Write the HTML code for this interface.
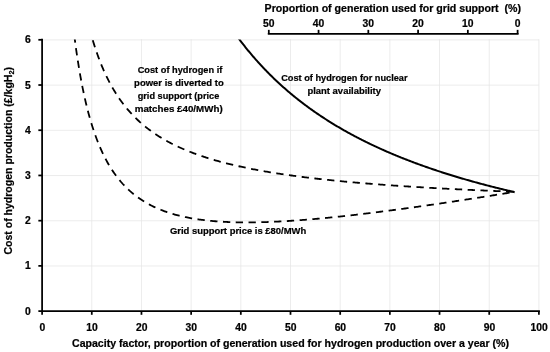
<!DOCTYPE html>
<html lang="en"><head><meta charset="utf-8"><title>Cost of hydrogen production</title>
<style>html,body{margin:0;padding:0;background:#fff;}svg{display:block;}text{font-family:"Liberation Sans", sans-serif;font-weight:bold;fill:#000;stroke:#000;stroke-width:0.22px;}</style></head><body>
<svg width="550" height="352" viewBox="0 0 550 352">
<rect width="550" height="352" fill="#fff"/>
<defs><clipPath id="plot"><rect x="42.10" y="39.60" width="498.80" height="271.50"/></clipPath></defs>
<g stroke="#e5e5e5" stroke-width="0.75" fill="none"><line x1="91.78" y1="39.10" x2="91.78" y2="311.10"/><line x1="141.46" y1="39.10" x2="141.46" y2="311.10"/><line x1="191.14" y1="39.10" x2="191.14" y2="311.10"/><line x1="240.82" y1="39.10" x2="240.82" y2="311.10"/><line x1="290.50" y1="39.10" x2="290.50" y2="311.10"/><line x1="340.18" y1="39.10" x2="340.18" y2="311.10"/><line x1="389.86" y1="39.10" x2="389.86" y2="311.10"/><line x1="439.54" y1="39.10" x2="439.54" y2="311.10"/><line x1="489.22" y1="39.10" x2="489.22" y2="311.10"/><line x1="538.90" y1="39.10" x2="538.90" y2="311.10"/><line x1="42.10" y1="265.98" x2="538.90" y2="265.98"/><line x1="42.10" y1="220.77" x2="538.90" y2="220.77"/><line x1="42.10" y1="175.55" x2="538.90" y2="175.55"/><line x1="42.10" y1="130.33" x2="538.90" y2="130.33"/><line x1="42.10" y1="85.12" x2="538.90" y2="85.12"/><line x1="42.10" y1="39.90" x2="538.90" y2="39.90"/></g>
<g clip-path="url(#plot)" fill="none" stroke="#000">
<path d="M515.05,191.80 L513.93,191.76 L512.81,191.72 L511.68,191.67 L510.56,191.63 L509.44,191.59 L508.32,191.54 L507.19,191.50 L506.07,191.45 L504.95,191.41 L503.82,191.36 L502.70,191.32 L501.58,191.27 L500.45,191.22 L499.33,191.18 L498.21,191.13 L497.08,191.09 L495.96,191.04 L494.84,190.99 L493.71,190.94 L492.59,190.90 L491.47,190.85 L490.35,190.80 L489.22,190.75 L488.10,190.70 L486.98,190.66 L485.85,190.61 L484.73,190.56 L483.61,190.51 L482.48,190.46 L481.36,190.41 L480.24,190.36 L479.11,190.31 L477.99,190.26 L476.87,190.21 L475.75,190.16 L474.62,190.10 L473.50,190.05 L472.38,190.00 L471.25,189.95 L470.13,189.90 L469.01,189.84 L467.88,189.79 L466.76,189.74 L465.64,189.68 L464.51,189.63 L463.39,189.57 L462.27,189.52 L461.15,189.46 L460.02,189.41 L458.90,189.35 L457.78,189.30 L456.65,189.24 L455.53,189.19 L454.41,189.13 L453.28,189.07 L452.16,189.01 L451.04,188.96 L449.91,188.90 L448.79,188.84 L447.67,188.78 L446.55,188.72 L445.42,188.66 L444.30,188.60 L443.18,188.54 L442.05,188.48 L440.93,188.42 L439.81,188.36 L438.68,188.30 L437.56,188.24 L436.44,188.18 L435.31,188.12 L434.19,188.05 L433.07,187.99 L431.94,187.93 L430.82,187.86 L429.70,187.80 L428.58,187.73 L427.45,187.67 L426.33,187.60 L425.21,187.54 L424.08,187.47 L422.96,187.41 L421.84,187.34 L420.71,187.27 L419.59,187.20 L418.47,187.14 L417.34,187.07 L416.22,187.00 L415.10,186.93 L413.98,186.86 L412.85,186.79 L411.73,186.72 L410.61,186.65 L409.48,186.58 L408.36,186.51 L407.24,186.43 L406.11,186.36 L404.99,186.29 L403.87,186.21 L402.74,186.14 L401.62,186.06 L400.50,185.99 L399.38,185.91 L398.25,185.84 L397.13,185.76 L396.01,185.69 L394.88,185.61 L393.76,185.53 L392.64,185.45 L391.51,185.37 L390.39,185.29 L389.27,185.21 L388.14,185.13 L387.02,185.05 L385.90,184.97 L384.77,184.89 L383.65,184.81 L382.53,184.72 L381.41,184.64 L380.28,184.55 L379.16,184.47 L378.04,184.38 L376.91,184.30 L375.79,184.21 L374.67,184.13 L373.54,184.04 L372.42,183.95 L371.30,183.86 L370.17,183.77 L369.05,183.68 L367.93,183.59 L366.81,183.50 L365.68,183.41 L364.56,183.31 L363.44,183.22 L362.31,183.13 L361.19,183.03 L360.07,182.94 L358.94,182.84 L357.82,182.74 L356.70,182.65 L355.57,182.55 L354.45,182.45 L353.33,182.35 L352.21,182.25 L351.08,182.15 L349.96,182.05 L348.84,181.95 L347.71,181.84 L346.59,181.74 L345.47,181.64 L344.34,181.53 L343.22,181.42 L342.10,181.32 L340.97,181.21 L339.85,181.10 L338.73,180.99 L337.61,180.88 L336.48,180.77 L335.36,180.66 L334.24,180.54 L333.11,180.43 L331.99,180.32 L330.87,180.20 L329.74,180.08 L328.62,179.97 L327.50,179.85 L326.37,179.73 L325.25,179.61 L324.13,179.49 L323.00,179.37 L321.88,179.24 L320.76,179.12 L319.64,179.00 L318.51,178.87 L317.39,178.74 L316.27,178.61 L315.14,178.49 L314.02,178.36 L312.90,178.22 L311.77,178.09 L310.65,177.96 L309.53,177.82 L308.40,177.69 L307.28,177.55 L306.16,177.41 L305.04,177.27 L303.91,177.13 L302.79,176.99 L301.67,176.85 L300.54,176.71 L299.42,176.56 L298.30,176.41 L297.17,176.27 L296.05,176.12 L294.93,175.97 L293.80,175.81 L292.68,175.66 L291.56,175.51 L290.44,175.35 L289.31,175.19 L288.19,175.03 L287.07,174.87 L285.94,174.71 L284.82,174.55 L283.70,174.38 L282.57,174.22 L281.45,174.05 L280.33,173.88 L279.20,173.71 L278.08,173.54 L276.96,173.36 L275.84,173.19 L274.71,173.01 L273.59,172.83 L272.47,172.65 L271.34,172.47 L270.22,172.28 L269.10,172.09 L267.97,171.91 L266.85,171.71 L265.73,171.52 L264.60,171.33 L263.48,171.13 L262.36,170.93 L261.23,170.73 L260.11,170.53 L258.99,170.33 L257.87,170.12 L256.74,169.91 L255.62,169.70 L254.50,169.49 L253.37,169.27 L252.25,169.06 L251.13,168.84 L250.00,168.61 L248.88,168.39 L247.76,168.16 L246.63,167.93 L245.51,167.70 L244.39,167.46 L243.27,167.23 L242.14,166.99 L241.02,166.74 L239.90,166.50 L238.77,166.25 L237.65,166.00 L236.53,165.74 L235.40,165.49 L234.28,165.23 L233.16,164.96 L232.03,164.70 L230.91,164.43 L229.79,164.16 L228.67,163.88 L227.54,163.60 L226.42,163.32 L225.30,163.03 L224.17,162.74 L223.05,162.45 L221.93,162.15 L220.80,161.85 L219.68,161.55 L218.56,161.24 L217.43,160.93 L216.31,160.61 L215.19,160.29 L214.07,159.96 L212.94,159.64 L211.82,159.30 L210.70,158.96 L209.57,158.62 L208.45,158.28 L207.33,157.92 L206.20,157.57 L205.08,157.21 L203.96,156.84 L202.83,156.47 L201.71,156.09 L200.59,155.71 L199.46,155.32 L198.34,154.93 L197.22,154.53 L196.10,154.13 L194.97,153.72 L193.85,153.30 L192.73,152.88 L191.60,152.45 L190.48,152.01 L189.36,151.57 L188.23,151.12 L187.11,150.66 L185.99,150.20 L184.86,149.73 L183.74,149.25 L182.62,148.77 L181.50,148.27 L180.37,147.77 L179.25,147.26 L178.13,146.75 L177.00,146.22 L175.88,145.68 L174.76,145.14 L173.63,144.59 L172.51,144.02 L171.39,143.45 L170.26,142.87 L169.14,142.27 L168.02,141.67 L166.90,141.05 L165.77,140.43 L164.65,139.79 L163.53,139.14 L162.40,138.48 L161.28,137.81 L160.16,137.12 L159.03,136.42 L157.91,135.71 L156.79,134.98 L155.66,134.24 L154.54,133.48 L153.42,132.71 L152.29,131.92 L151.17,131.12 L150.05,130.30 L148.93,129.46 L147.80,128.60 L146.68,127.73 L145.56,126.83 L144.43,125.92 L143.31,124.99 L142.19,124.03 L141.06,123.06 L139.94,122.06 L138.82,121.04 L137.69,120.00 L136.57,118.93 L135.45,117.83 L134.33,116.71 L133.20,115.56 L132.08,114.38 L130.96,113.17 L129.83,111.93 L128.71,110.66 L127.59,109.35 L126.46,108.01 L125.34,106.64 L124.22,105.22 L123.09,103.77 L121.97,102.28 L120.85,100.74 L119.73,99.16 L118.60,97.53 L117.48,95.86 L116.36,94.13 L115.23,92.35 L114.11,90.52 L112.99,88.62 L111.86,86.67 L110.74,84.65 L109.62,82.57 L108.49,80.41 L107.37,78.18 L106.25,75.88 L105.13,73.49 L104.00,71.01 L102.88,68.44 L101.76,65.78 L100.63,63.01 L99.51,60.13 L98.39,57.14 L97.26,54.03 L96.14,50.79 L95.02,47.41 L93.89,43.88 L92.77,40.20 L91.65,36.35 L90.52,32.33 L89.40,28.11 L88.28,23.69 L87.16,19.04 L86.03,14.16 L84.91,9.02 L83.79,3.61 L82.66,-2.11 L81.54,-8.15 L80.42,-14.54 L79.29,-21.32 L78.17,-28.52 L77.05,-36.19 L75.92,-44.36 L74.80,-53.10 L73.68,-62.45 L72.56,-72.50 L71.43,-83.32 L70.31,-95.00 L69.19,-107.64 L68.06,-121.38 L66.94,-136.36" stroke-width="1.8" stroke-dasharray="7.3 5.51" stroke-dashoffset="11.1"/>
<path d="M515.05,191.81 L513.93,191.99 L512.81,192.17 L511.68,192.35 L510.56,192.54 L509.44,192.72 L508.32,192.90 L507.19,193.08 L506.07,193.26 L504.95,193.44 L503.82,193.62 L502.70,193.80 L501.58,193.98 L500.45,194.16 L499.33,194.34 L498.21,194.52 L497.08,194.70 L495.96,194.88 L494.84,195.06 L493.71,195.24 L492.59,195.42 L491.47,195.60 L490.35,195.78 L489.22,195.95 L488.10,196.13 L486.98,196.31 L485.85,196.49 L484.73,196.66 L483.61,196.84 L482.48,197.02 L481.36,197.19 L480.24,197.37 L479.11,197.54 L477.99,197.72 L476.87,197.90 L475.75,198.07 L474.62,198.25 L473.50,198.42 L472.38,198.59 L471.25,198.77 L470.13,198.94 L469.01,199.12 L467.88,199.29 L466.76,199.46 L465.64,199.63 L464.51,199.81 L463.39,199.98 L462.27,200.15 L461.15,200.32 L460.02,200.49 L458.90,200.67 L457.78,200.84 L456.65,201.01 L455.53,201.18 L454.41,201.35 L453.28,201.52 L452.16,201.69 L451.04,201.85 L449.91,202.02 L448.79,202.19 L447.67,202.36 L446.55,202.53 L445.42,202.69 L444.30,202.86 L443.18,203.03 L442.05,203.20 L440.93,203.36 L439.81,203.53 L438.68,203.69 L437.56,203.86 L436.44,204.02 L435.31,204.19 L434.19,204.35 L433.07,204.52 L431.94,204.68 L430.82,204.84 L429.70,205.01 L428.58,205.17 L427.45,205.33 L426.33,205.49 L425.21,205.65 L424.08,205.81 L422.96,205.97 L421.84,206.13 L420.71,206.29 L419.59,206.45 L418.47,206.61 L417.34,206.77 L416.22,206.93 L415.10,207.09 L413.98,207.24 L412.85,207.40 L411.73,207.56 L410.61,207.71 L409.48,207.87 L408.36,208.03 L407.24,208.18 L406.11,208.34 L404.99,208.49 L403.87,208.64 L402.74,208.80 L401.62,208.95 L400.50,209.10 L399.38,209.25 L398.25,209.41 L397.13,209.56 L396.01,209.71 L394.88,209.86 L393.76,210.01 L392.64,210.16 L391.51,210.30 L390.39,210.45 L389.27,210.60 L388.14,210.75 L387.02,210.89 L385.90,211.04 L384.77,211.19 L383.65,211.33 L382.53,211.47 L381.41,211.62 L380.28,211.76 L379.16,211.90 L378.04,212.05 L376.91,212.19 L375.79,212.33 L374.67,212.47 L373.54,212.61 L372.42,212.75 L371.30,212.89 L370.17,213.03 L369.05,213.17 L367.93,213.30 L366.81,213.44 L365.68,213.58 L364.56,213.71 L363.44,213.85 L362.31,213.98 L361.19,214.11 L360.07,214.25 L358.94,214.38 L357.82,214.51 L356.70,214.64 L355.57,214.77 L354.45,214.90 L353.33,215.03 L352.21,215.16 L351.08,215.28 L349.96,215.41 L348.84,215.54 L347.71,215.66 L346.59,215.79 L345.47,215.91 L344.34,216.03 L343.22,216.15 L342.10,216.28 L340.97,216.40 L339.85,216.52 L338.73,216.63 L337.61,216.75 L336.48,216.87 L335.36,216.99 L334.24,217.10 L333.11,217.22 L331.99,217.33 L330.87,217.44 L329.74,217.56 L328.62,217.67 L327.50,217.78 L326.37,217.89 L325.25,218.00 L324.13,218.10 L323.00,218.21 L321.88,218.32 L320.76,218.42 L319.64,218.53 L318.51,218.63 L317.39,218.73 L316.27,218.83 L315.14,218.93 L314.02,219.03 L312.90,219.13 L311.77,219.22 L310.65,219.32 L309.53,219.41 L308.40,219.51 L307.28,219.60 L306.16,219.69 L305.04,219.78 L303.91,219.87 L302.79,219.96 L301.67,220.04 L300.54,220.13 L299.42,220.21 L298.30,220.30 L297.17,220.38 L296.05,220.46 L294.93,220.54 L293.80,220.61 L292.68,220.69 L291.56,220.76 L290.44,220.84 L289.31,220.91 L288.19,220.98 L287.07,221.05 L285.94,221.12 L284.82,221.18 L283.70,221.25 L282.57,221.31 L281.45,221.37 L280.33,221.43 L279.20,221.49 L278.08,221.55 L276.96,221.61 L275.84,221.66 L274.71,221.71 L273.59,221.76 L272.47,221.81 L271.34,221.86 L270.22,221.90 L269.10,221.95 L267.97,221.99 L266.85,222.03 L265.73,222.07 L264.60,222.10 L263.48,222.14 L262.36,222.17 L261.23,222.20 L260.11,222.23 L258.99,222.25 L257.87,222.28 L256.74,222.30 L255.62,222.32 L254.50,222.34 L253.37,222.35 L252.25,222.37 L251.13,222.38 L250.00,222.38 L248.88,222.39 L247.76,222.39 L246.63,222.40 L245.51,222.39 L244.39,222.39 L243.27,222.38 L242.14,222.37 L241.02,222.36 L239.90,222.35 L238.77,222.33 L237.65,222.31 L236.53,222.29 L235.40,222.26 L234.28,222.23 L233.16,222.20 L232.03,222.17 L230.91,222.13 L229.79,222.09 L228.67,222.05 L227.54,222.00 L226.42,221.95 L225.30,221.89 L224.17,221.83 L223.05,221.77 L221.93,221.71 L220.80,221.64 L219.68,221.57 L218.56,221.49 L217.43,221.41 L216.31,221.33 L215.19,221.24 L214.07,221.15 L212.94,221.05 L211.82,220.95 L210.70,220.85 L209.57,220.74 L208.45,220.62 L207.33,220.50 L206.20,220.38 L205.08,220.25 L203.96,220.12 L202.83,219.98 L201.71,219.84 L200.59,219.69 L199.46,219.54 L198.34,219.38 L197.22,219.21 L196.10,219.04 L194.97,218.86 L193.85,218.68 L192.73,218.49 L191.60,218.30 L190.48,218.10 L189.36,217.89 L188.23,217.68 L187.11,217.45 L185.99,217.23 L184.86,216.99 L183.74,216.75 L182.62,216.50 L181.50,216.24 L180.37,215.97 L179.25,215.70 L178.13,215.42 L177.00,215.13 L175.88,214.83 L174.76,214.52 L173.63,214.20 L172.51,213.87 L171.39,213.54 L170.26,213.19 L169.14,212.83 L168.02,212.47 L166.90,212.09 L165.77,211.70 L164.65,211.30 L163.53,210.89 L162.40,210.46 L161.28,210.03 L160.16,209.58 L159.03,209.12 L157.91,208.64 L156.79,208.15 L155.66,207.65 L154.54,207.13 L153.42,206.60 L152.29,206.05 L151.17,205.49 L150.05,204.91 L148.93,204.31 L147.80,203.70 L146.68,203.06 L145.56,202.41 L144.43,201.74 L143.31,201.05 L142.19,200.34 L141.06,199.60 L139.94,198.85 L138.82,198.07 L137.69,197.27 L136.57,196.44 L135.45,195.59 L134.33,194.71 L133.20,193.81 L132.08,192.87 L130.96,191.91 L129.83,190.92 L128.71,189.89 L127.59,188.84 L126.46,187.74 L125.34,186.62 L124.22,185.45 L123.09,184.25 L121.97,183.00 L120.85,181.72 L119.73,180.39 L118.60,179.01 L117.48,177.59 L116.36,176.12 L115.23,174.59 L114.11,173.01 L112.99,171.37 L111.86,169.68 L110.74,167.92 L109.62,166.09 L108.49,164.19 L107.37,162.22 L106.25,160.18 L105.13,158.05 L104.00,155.84 L102.88,153.53 L101.76,151.14 L100.63,148.64 L99.51,146.03 L98.39,143.31 L97.26,140.47 L96.14,137.51 L95.02,134.40 L93.89,131.16 L92.77,127.76 L91.65,124.19 L90.52,120.45 L89.40,116.52 L88.28,112.39 L87.16,108.04 L86.03,103.46 L84.91,98.62 L83.79,93.51 L82.66,88.11 L81.54,82.38 L80.42,76.31 L79.29,69.85 L78.17,62.98 L77.05,55.65 L75.92,47.82 L74.80,39.44 L73.68,30.44 L72.56,20.77 L71.43,10.33 L70.31,-0.95 L69.19,-13.19 L68.06,-26.51 L66.94,-41.05" stroke-width="1.8" stroke-dasharray="7.3 5.486" stroke-dashoffset="7.3"/>
<path d="M514.66,192.17 L513.85,191.99 L513.03,191.80 L512.22,191.61 L511.41,191.42 L510.60,191.23 L509.79,191.03 L508.98,190.84 L508.17,190.65 L507.36,190.46 L506.55,190.26 L505.74,190.07 L504.93,189.87 L504.12,189.68 L503.30,189.48 L502.49,189.28 L501.68,189.08 L500.87,188.88 L500.06,188.68 L499.25,188.48 L498.44,188.28 L497.63,188.08 L496.82,187.88 L496.01,187.68 L495.20,187.47 L494.39,187.27 L493.57,187.06 L492.76,186.86 L491.95,186.65 L491.14,186.44 L490.33,186.23 L489.52,186.02 L488.71,185.81 L487.90,185.60 L487.09,185.39 L486.28,185.18 L485.47,184.97 L484.66,184.75 L483.85,184.54 L483.03,184.32 L482.22,184.11 L481.41,183.89 L480.60,183.67 L479.79,183.45 L478.98,183.23 L478.17,183.01 L477.36,182.79 L476.55,182.57 L475.74,182.35 L474.93,182.12 L474.12,181.90 L473.30,181.67 L472.49,181.45 L471.68,181.22 L470.87,180.99 L470.06,180.77 L469.25,180.54 L468.44,180.31 L467.63,180.07 L466.82,179.84 L466.01,179.61 L465.20,179.38 L464.39,179.14 L463.57,178.91 L462.76,178.67 L461.95,178.43 L461.14,178.19 L460.33,177.95 L459.52,177.71 L458.71,177.47 L457.90,177.23 L457.09,176.99 L456.28,176.74 L455.47,176.50 L454.66,176.25 L453.84,176.00 L453.03,175.76 L452.22,175.51 L451.41,175.26 L450.60,175.01 L449.79,174.76 L448.98,174.50 L448.17,174.25 L447.36,173.99 L446.55,173.74 L445.74,173.48 L444.93,173.22 L444.12,172.96 L443.30,172.70 L442.49,172.44 L441.68,172.18 L440.87,171.92 L440.06,171.65 L439.25,171.39 L438.44,171.12 L437.63,170.85 L436.82,170.58 L436.01,170.31 L435.20,170.04 L434.39,169.77 L433.57,169.50 L432.76,169.22 L431.95,168.95 L431.14,168.67 L430.33,168.39 L429.52,168.12 L428.71,167.84 L427.90,167.55 L427.09,167.27 L426.28,166.99 L425.47,166.70 L424.66,166.42 L423.84,166.13 L423.03,165.84 L422.22,165.55 L421.41,165.26 L420.60,164.97 L419.79,164.68 L418.98,164.38 L418.17,164.09 L417.36,163.79 L416.55,163.49 L415.74,163.19 L414.93,162.89 L414.11,162.59 L413.30,162.28 L412.49,161.98 L411.68,161.67 L410.87,161.36 L410.06,161.05 L409.25,160.74 L408.44,160.43 L407.63,160.12 L406.82,159.80 L406.01,159.49 L405.20,159.17 L404.38,158.85 L403.57,158.53 L402.76,158.21 L401.95,157.89 L401.14,157.56 L400.33,157.24 L399.52,156.91 L398.71,156.58 L397.90,156.25 L397.09,155.92 L396.28,155.58 L395.47,155.25 L394.66,154.91 L393.84,154.57 L393.03,154.23 L392.22,153.89 L391.41,153.55 L390.60,153.20 L389.79,152.86 L388.98,152.51 L388.17,152.16 L387.36,151.81 L386.55,151.46 L385.74,151.10 L384.93,150.75 L384.11,150.39 L383.30,150.03 L382.49,149.67 L381.68,149.30 L380.87,148.94 L380.06,148.57 L379.25,148.21 L378.44,147.84 L377.63,147.46 L376.82,147.09 L376.01,146.71 L375.20,146.34 L374.38,145.96 L373.57,145.58 L372.76,145.20 L371.95,144.81 L371.14,144.42 L370.33,144.04 L369.52,143.65 L368.71,143.25 L367.90,142.86 L367.09,142.46 L366.28,142.06 L365.47,141.66 L364.65,141.26 L363.84,140.86 L363.03,140.45 L362.22,140.04 L361.41,139.63 L360.60,139.22 L359.79,138.81 L358.98,138.39 L358.17,137.97 L357.36,137.55 L356.55,137.13 L355.74,136.70 L354.93,136.27 L354.11,135.84 L353.30,135.41 L352.49,134.98 L351.68,134.54 L350.87,134.10 L350.06,133.66 L349.25,133.22 L348.44,132.77 L347.63,132.32 L346.82,131.87 L346.01,131.42 L345.20,130.96 L344.38,130.51 L343.57,130.05 L342.76,129.58 L341.95,129.12 L341.14,128.65 L340.33,128.18 L339.52,127.71 L338.71,127.23 L337.90,126.75 L337.09,126.27 L336.28,125.79 L335.47,125.30 L334.65,124.82 L333.84,124.32 L333.03,123.83 L332.22,123.33 L331.41,122.83 L330.60,122.33 L329.79,121.82 L328.98,121.32 L328.17,120.81 L327.36,120.29 L326.55,119.77 L325.74,119.25 L324.92,118.73 L324.11,118.21 L323.30,117.68 L322.49,117.14 L321.68,116.61 L320.87,116.07 L320.06,115.53 L319.25,114.99 L318.44,114.44 L317.63,113.89 L316.82,113.33 L316.01,112.78 L315.20,112.21 L314.38,111.65 L313.57,111.08 L312.76,110.51 L311.95,109.94 L311.14,109.36 L310.33,108.78 L309.52,108.19 L308.71,107.61 L307.90,107.01 L307.09,106.42 L306.28,105.82 L305.47,105.22 L304.65,104.61 L303.84,104.00 L303.03,103.39 L302.22,102.77 L301.41,102.15 L300.60,101.52 L299.79,100.89 L298.98,100.26 L298.17,99.62 L297.36,98.98 L296.55,98.33 L295.74,97.68 L294.92,97.03 L294.11,96.37 L293.30,95.71 L292.49,95.04 L291.68,94.37 L290.87,93.69 L290.06,93.01 L289.25,92.33 L288.44,91.64 L287.63,90.94 L286.82,90.25 L286.01,89.54 L285.19,88.84 L284.38,88.12 L283.57,87.41 L282.76,86.69 L281.95,85.96 L281.14,85.23 L280.33,84.49 L279.52,83.75 L278.71,83.00 L277.90,82.25 L277.09,81.49 L276.28,80.73 L275.47,79.96 L274.65,79.19 L273.84,78.41 L273.03,77.63 L272.22,76.84 L271.41,76.04 L270.60,75.24 L269.79,74.44 L268.98,73.63 L268.17,72.81 L267.36,71.98 L266.55,71.15 L265.74,70.32 L264.92,69.48 L264.11,68.63 L263.30,67.77 L262.49,66.91 L261.68,66.05 L260.87,65.17 L260.06,64.29 L259.25,63.41 L258.44,62.52 L257.63,61.62 L256.82,60.71 L256.01,59.80 L255.19,58.88 L254.38,57.95 L253.57,57.01 L252.76,56.07 L251.95,55.12 L251.14,54.17 L250.33,53.20 L249.52,52.23 L248.71,51.25 L247.90,50.27 L247.09,49.27 L246.28,48.27 L245.46,47.26 L244.65,46.24 L243.84,45.22 L243.03,44.18 L242.22,43.14 L241.41,42.09 L240.60,41.03 L239.79,39.96 L238.98,38.88 L238.17,37.79 L237.36,36.70 L236.55,35.59 L235.73,34.48 L234.92,33.35 L234.11,32.22 L233.30,31.08 L232.49,29.93 L231.68,28.76 L230.87,27.59 L230.06,26.41 L229.25,25.22 L228.44,24.02 L227.63,22.80 L226.82,21.58 L226.01,20.34 L225.19,19.10 L224.38,17.84 L223.57,16.57 L222.76,15.29 L221.95,14.00 L221.14,12.70 L220.33,11.38 L219.52,10.06 L218.71,8.72 L217.90,7.37 L217.09,6.00 L216.28,4.63 L215.46,3.24 L214.65,1.84 L213.84,0.42 L213.03,-1.01 L212.22,-2.45 L211.41,-3.91 L210.60,-5.38 L209.79,-6.86 L208.98,-8.36 L208.17,-9.87 L207.36,-11.40 L206.55,-12.95 L205.73,-14.50 L204.92,-16.08 L204.11,-17.67 L203.30,-19.27 L202.49,-20.90 L201.68,-22.54 L200.87,-24.19 L200.06,-25.86 L199.25,-27.55 L198.44,-29.26 L197.63,-30.99 L196.82,-32.73 L196.00,-34.49 L195.19,-36.27 L194.38,-38.07 L193.57,-39.89 L192.76,-41.73 L191.95,-43.59 L191.14,-45.46" stroke-width="2.0"/>
</g>
<g stroke="#000" stroke-width="1.75" fill="none"><path d="M42.10,38.80 V311.10 H539.90"/><line x1="42.10" y1="311.10" x2="42.10" y2="314.80"/><line x1="91.78" y1="311.10" x2="91.78" y2="314.80"/><line x1="141.46" y1="311.10" x2="141.46" y2="314.80"/><line x1="191.14" y1="311.10" x2="191.14" y2="314.80"/><line x1="240.82" y1="311.10" x2="240.82" y2="314.80"/><line x1="290.50" y1="311.10" x2="290.50" y2="314.80"/><line x1="340.18" y1="311.10" x2="340.18" y2="314.80"/><line x1="389.86" y1="311.10" x2="389.86" y2="314.80"/><line x1="439.54" y1="311.10" x2="439.54" y2="314.80"/><line x1="489.22" y1="311.10" x2="489.22" y2="314.80"/><line x1="538.90" y1="311.10" x2="538.90" y2="314.80"/><line x1="38.35" y1="311.10" x2="42.10" y2="311.10"/><line x1="38.35" y1="265.88" x2="42.10" y2="265.88"/><line x1="38.35" y1="220.67" x2="42.10" y2="220.67"/><line x1="38.35" y1="175.45" x2="42.10" y2="175.45"/><line x1="38.35" y1="130.23" x2="42.10" y2="130.23"/><line x1="38.35" y1="85.02" x2="42.10" y2="85.02"/><line x1="38.35" y1="39.80" x2="42.10" y2="39.80"/><path d="M267.80,33.75 H518.60"/><line x1="268.80" y1="33.75" x2="268.80" y2="29.85"/><line x1="318.56" y1="33.75" x2="318.56" y2="29.85"/><line x1="368.32" y1="33.75" x2="368.32" y2="29.85"/><line x1="418.08" y1="33.75" x2="418.08" y2="29.85"/><line x1="467.84" y1="33.75" x2="467.84" y2="29.85"/><line x1="517.60" y1="33.75" x2="517.60" y2="29.85"/></g>
<g font-size="10.4"><text x="42.30" y="330.50" text-anchor="middle" textLength="5.75" lengthAdjust="spacingAndGlyphs">0</text><text x="91.98" y="330.50" text-anchor="middle" textLength="11.50" lengthAdjust="spacingAndGlyphs">10</text><text x="141.66" y="330.50" text-anchor="middle" textLength="11.50" lengthAdjust="spacingAndGlyphs">20</text><text x="191.34" y="330.50" text-anchor="middle" textLength="11.50" lengthAdjust="spacingAndGlyphs">30</text><text x="241.02" y="330.50" text-anchor="middle" textLength="11.50" lengthAdjust="spacingAndGlyphs">40</text><text x="290.70" y="330.50" text-anchor="middle" textLength="11.50" lengthAdjust="spacingAndGlyphs">50</text><text x="340.38" y="330.50" text-anchor="middle" textLength="11.50" lengthAdjust="spacingAndGlyphs">60</text><text x="390.06" y="330.50" text-anchor="middle" textLength="11.50" lengthAdjust="spacingAndGlyphs">70</text><text x="439.74" y="330.50" text-anchor="middle" textLength="11.50" lengthAdjust="spacingAndGlyphs">80</text><text x="489.42" y="330.50" text-anchor="middle" textLength="11.50" lengthAdjust="spacingAndGlyphs">90</text><text x="539.10" y="330.50" text-anchor="middle" textLength="17.25" lengthAdjust="spacingAndGlyphs">100</text><text x="27.80" y="314.60" text-anchor="middle" textLength="5.75" lengthAdjust="spacingAndGlyphs">0</text><text x="27.80" y="269.38" text-anchor="middle" textLength="5.75" lengthAdjust="spacingAndGlyphs">1</text><text x="27.80" y="224.17" text-anchor="middle" textLength="5.75" lengthAdjust="spacingAndGlyphs">2</text><text x="27.80" y="178.95" text-anchor="middle" textLength="5.75" lengthAdjust="spacingAndGlyphs">3</text><text x="27.80" y="133.73" text-anchor="middle" textLength="5.75" lengthAdjust="spacingAndGlyphs">4</text><text x="27.80" y="88.52" text-anchor="middle" textLength="5.75" lengthAdjust="spacingAndGlyphs">5</text><text x="27.80" y="43.30" text-anchor="middle" textLength="5.75" lengthAdjust="spacingAndGlyphs">6</text><text x="268.80" y="27.00" text-anchor="middle" textLength="11.50" lengthAdjust="spacingAndGlyphs">50</text><text x="318.56" y="27.00" text-anchor="middle" textLength="11.50" lengthAdjust="spacingAndGlyphs">40</text><text x="368.32" y="27.00" text-anchor="middle" textLength="11.50" lengthAdjust="spacingAndGlyphs">30</text><text x="418.08" y="27.00" text-anchor="middle" textLength="11.50" lengthAdjust="spacingAndGlyphs">20</text><text x="467.84" y="27.00" text-anchor="middle" textLength="11.50" lengthAdjust="spacingAndGlyphs">10</text><text x="517.60" y="27.00" text-anchor="middle" textLength="5.75" lengthAdjust="spacingAndGlyphs">0</text></g>
<g font-size="10.4">
<text x="264.6" y="12.2" textLength="256.4" lengthAdjust="spacingAndGlyphs" xml:space="preserve">Proportion of generation used for grid support  (%)</text>
<text x="72" y="347.45" textLength="437" lengthAdjust="spacingAndGlyphs">Capacity factor, proportion of generation used for hydrogen production over a year (%)</text>
<text transform="translate(11.5,254.6) rotate(-90)" textLength="187.6" lengthAdjust="spacingAndGlyphs">Cost of hydrogen production (£/kgH<tspan font-size="7.2" dy="2">2</tspan><tspan dy="-2">)</tspan></text>
</g>
<g font-size="9.6" text-anchor="middle">
<text x="180.00" y="73.40" textLength="84.60" lengthAdjust="spacingAndGlyphs">Cost of hydrogen if</text>
<text x="178.90" y="86.30" textLength="89.60" lengthAdjust="spacingAndGlyphs">power is diverted to</text>
<text x="178.50" y="99.10" textLength="81.60" lengthAdjust="spacingAndGlyphs">grid support (price</text>
<text x="178.70" y="111.90" textLength="88.00" lengthAdjust="spacingAndGlyphs">matches £40/MWh)</text>
<text x="344.4" y="81.2" textLength="126.4" lengthAdjust="spacingAndGlyphs">Cost of hydrogen for nuclear</text>
<text x="344.2" y="93.9" textLength="73.6" lengthAdjust="spacingAndGlyphs">plant availability</text>
<text x="238.05" y="234.35" textLength="136.3" lengthAdjust="spacingAndGlyphs">Grid support price is £80/MWh</text>
</g>
</svg></body></html>
